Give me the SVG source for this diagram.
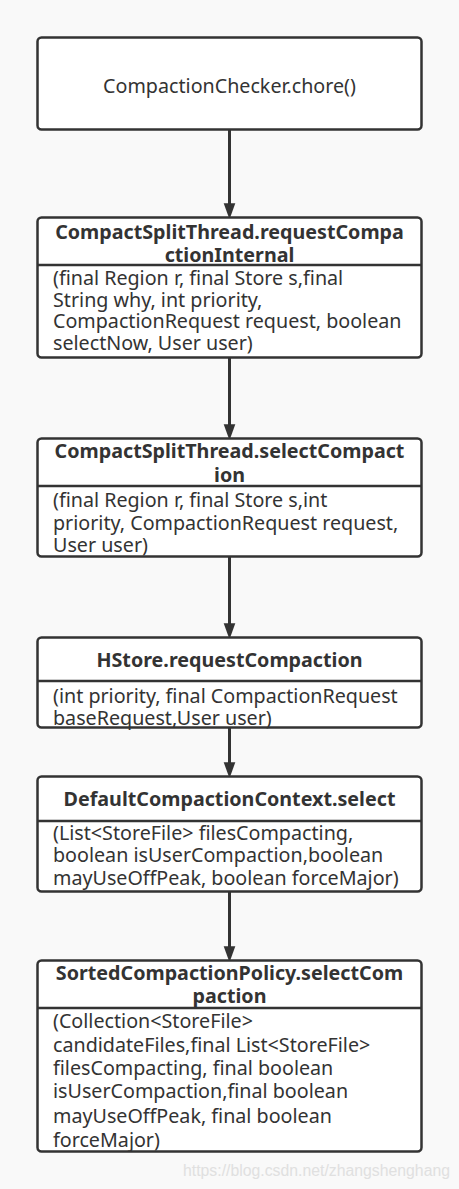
<svg xmlns="http://www.w3.org/2000/svg" width="459" height="1189" viewBox="0 0 459 1189">
<style>
.box{fill:#fff;stroke:#333;stroke-width:2.5}
.div{stroke:#333;stroke-width:2.5}
.t{font-family:"Noto Sans","Open Sans",sans-serif;fill:#333;font-size:19.7px}
.b{font-weight:bold;text-anchor:middle}
.c{text-anchor:middle}
.edge{stroke:#333;stroke-width:3;fill:none}
.wm{font-family:"Liberation Sans",Arial,sans-serif;font-size:15.8px;fill:#e0e0e0}
</style>
<defs>
<marker id="ah" markerWidth="16" markerHeight="22" refX="16" refY="8" orient="auto" markerUnits="userSpaceOnUse" viewBox="0 0 22 16">
<path d="M0,0 L22,8 L0,16 Z" fill="#333"/>
</marker>
</defs>
<rect width="459" height="1189" fill="#f9f9f9"/>
<g id="edges">
<line class="edge" x1="229.5" y1="130" x2="229.5" y2="215" marker-end="url(#ah)"/>
<line class="edge" x1="229.5" y1="358" x2="229.5" y2="436" marker-end="url(#ah)"/>
<line class="edge" x1="229.5" y1="557" x2="229.5" y2="635" marker-end="url(#ah)"/>
<line class="edge" x1="229.5" y1="728" x2="229.5" y2="774" marker-end="url(#ah)"/>
<line class="edge" x1="229.5" y1="892" x2="229.5" y2="958" marker-end="url(#ah)"/>
</g>
<g id="n1">
<rect class="box" x="37.5" y="37.5" width="384" height="92" rx="4"/>
<text class="t c" x="229.5" y="93">CompactionChecker.chore()</text>
</g>
<g id="n2">
<rect class="box" x="37.5" y="217.5" width="384" height="140" rx="4"/>
<line class="div" x1="37.5" y1="265" x2="421.5" y2="265"/>
<text class="t b" x="229.5" y="239">CompactSplitThread.requestCompa</text>
<text class="t b" x="229.5" y="262">ctionInternal</text>
<text class="t" x="53" y="285">(final Region r, final Store s,final</text>
<text class="t" x="53" y="307">String why, int priority,</text>
<text class="t" x="53" y="328">CompactionRequest request, boolean</text>
<text class="t" x="53" y="350">selectNow, User user)</text>
</g>
<g id="n3">
<rect class="box" x="37.5" y="438.5" width="384" height="118" rx="4"/>
<line class="div" x1="37.5" y1="486" x2="421.5" y2="486"/>
<text class="t b" x="229.5" y="458">CompactSplitThread.selectCompact</text>
<text class="t b" x="229.5" y="482">ion</text>
<text class="t" x="53" y="507">(final Region r, final Store s,int</text>
<text class="t" x="53" y="530">priority, CompactionRequest request,</text>
<text class="t" x="53" y="552">User user)</text>
</g>
<g id="n4">
<rect class="box" x="37.5" y="637.5" width="384" height="90" rx="4"/>
<line class="div" x1="37.5" y1="681" x2="421.5" y2="681"/>
<text class="t b" x="229.5" y="667">HStore.requestCompaction</text>
<text class="t" x="53" y="703">(int priority, final CompactionRequest</text>
<text class="t" x="53" y="725">baseRequest,User user)</text>
</g>
<g id="n5">
<rect class="box" x="37.5" y="776.5" width="384" height="115" rx="4"/>
<line class="div" x1="37.5" y1="821" x2="421.5" y2="821"/>
<text class="t b" x="229.5" y="806">DefaultCompactionContext.select</text>
<text class="t" x="53" y="840">(List&lt;StoreFile&gt; filesCompacting,</text>
<text class="t" x="53" y="862">boolean isUserCompaction,boolean</text>
<text class="t" x="53" y="885">mayUseOffPeak, boolean forceMajor)</text>
</g>
<g id="n6">
<rect class="box" x="37.5" y="960.5" width="384" height="191" rx="4"/>
<line class="div" x1="37.5" y1="1008" x2="421.5" y2="1008"/>
<text class="t b" x="229.5" y="980">SortedCompactionPolicy.selectCom</text>
<text class="t b" x="229.5" y="1003">paction</text>
<text class="t" x="53" y="1028">(Collection&lt;StoreFile&gt;</text>
<text class="t" x="53" y="1052">candidateFiles,final List&lt;StoreFile&gt;</text>
<text class="t" x="53" y="1075">filesCompacting, final boolean</text>
<text class="t" x="53" y="1098">isUserCompaction,final boolean</text>
<text class="t" x="53" y="1123">mayUseOffPeak, final boolean</text>
<text class="t" x="53" y="1147">forceMajor)</text>
</g>
<text class="wm" x="183" y="1176">https://blog.csdn.net/zhangshenghang</text>
</svg>
